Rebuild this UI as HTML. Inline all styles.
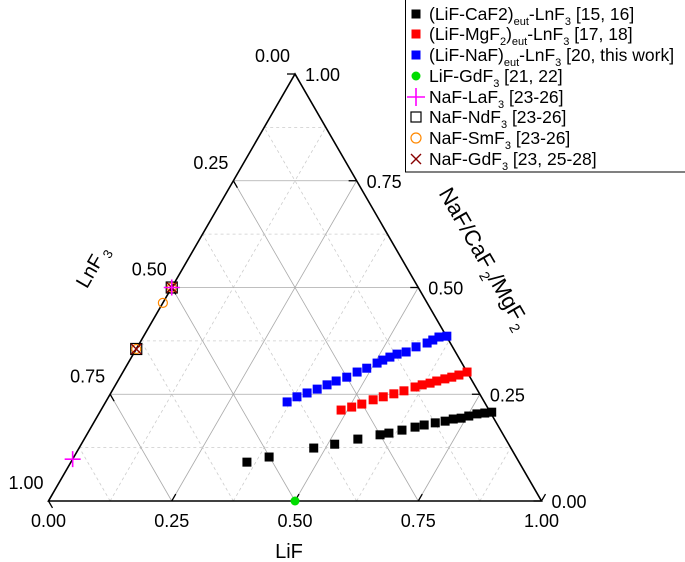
<!DOCTYPE html>
<html><head><meta charset="utf-8"><style>
body{margin:0;background:#fff}
svg{display:block;font-family:"Liberation Sans",Arial,sans-serif}
</style></head><body>
<svg id="c" width="685" height="562" viewBox="0 0 685 562">
<g id="grid"></g>
<g id="axes"></g>
<g id="marks"></g>
<text x="289" y="558" font-size="20" text-anchor="middle">LiF</text>
<text transform="translate(98,270) rotate(-60)" font-size="20" text-anchor="middle">LnF<tspan font-size="13" dx="3" dy="5">3</tspan></text>
<text transform="translate(478,262) rotate(60)" font-size="22" text-anchor="middle">NaF/CaF<tspan font-size="14" dx="2" dy="6">2</tspan><tspan dy="-6">/MgF</tspan><tspan font-size="14" dx="2" dy="6">2</tspan></text>
<g id="legend">
<rect x="405.5" y="-1" width="290" height="173" fill="#fff" stroke="#000" stroke-width="1"/>
</g>
</svg>
<script>
const blackLiF=[0.357,0.396,0.476,0.514,0.555,0.595,0.611,0.634,0.657,0.673,0.693,0.711,0.725,0.740,0.753,0.767,0.782,0.795];
const blackThird=[0.091,0.103,0.124,0.133,0.145,0.155,0.159,0.166,0.173,0.178,0.183,0.187,0.192,0.194,0.199,0.204,0.206,0.208];
const redLiF=[0.487,0.505,0.522,0.540,0.557,0.575,0.592,0.610,0.622,0.636,0.647,0.661,0.673,0.685,0.698];
const redThird=[0.213,0.220,0.227,0.237,0.244,0.251,0.258,0.267,0.272,0.276,0.281,0.286,0.290,0.295,0.302];
const blueLiF=[0.368,0.382,0.398,0.414,0.429,0.443,0.460,0.475,0.490,0.505,0.513,0.524,0.535,0.551,0.565,0.583,0.591,0.600,0.615];
const blueThird=[0.232,0.244,0.253,0.262,0.272,0.281,0.290,0.302,0.311,0.323,0.330,0.337,0.344,0.349,0.361,0.370,0.377,0.384,0.386];
const greenLiF=[0.5];const greenThird=[0];
const laThird=[0.098,0.5];
const ndThird=[0.356,0.5];
const smThird=[0.356,0.464,0.5];
const gdThird=[0.356,0.5];
const tickLabels=["0.00","0.25","0.50","0.75","1.00"];
const tickVals=[0,0.25,0.5,0.75,1];

const NS="http://www.w3.org/2000/svg";
const BLx=48.5,BY=501,W=493,H=427;
function px(a,c){return BLx+a*W+c*W/2;}
function py(a,c){return BY-c*H;}
function mk(tag,at,parent){const e=document.createElementNS(NS,tag);for(const k in at)e.setAttribute(k,at[k]);parent.appendChild(e);return e;}
const grid=document.getElementById('grid'),axes=document.getElementById('axes'),marks=document.getElementById('marks'),legend=document.getElementById('legend');

for(let i=1;i<8;i++){
  const t=i/8, solid=i%2===0;
  const st=solid?{stroke:'#aaa','stroke-width':0.8}:{stroke:'#ccc','stroke-width':0.8,'stroke-dasharray':'3,3'};
  let l=mk('line',Object.assign({x1:px(0,t),y1:py(0,t),x2:px(1-t,t),y2:py(1-t,t)},st),grid);
  
  
  l=mk('line',Object.assign({x1:px(t,0),y1:py(t,0),x2:px(t,1-t),y2:py(t,1-t)},st),grid);
  
  
  l=mk('line',Object.assign({x1:px(1-t,0),y1:py(1-t,0),x2:px(0,1-t),y2:py(0,1-t)},st),grid);
  
  
}
const tri=mk('polygon',{points:`${px(0,0)},${py(0,0)} ${px(1,0)},${py(1,0)} ${px(0,1)},${py(0,1)}`,fill:'none',stroke:'#000','stroke-width':1.6},axes);


const TL=8;
for(let i=0;i<5;i++){
  const v=tickVals[i];
  // ticks
  let tk=mk('line',{x1:px(v,0),y1:py(v,0),x2:px(v,0)+TL*0.5,y2:py(v,0)-TL*0.866,stroke:'#000','stroke-width':1.3},axes);
  
  
  tk=mk('line',{x1:px(0,1-v),y1:py(0,1-v),x2:px(0,1-v)+TL*0.5,y2:py(0,1-v)+TL*0.866,stroke:'#000','stroke-width':1.3},axes);
  
  
  tk=mk('line',{x1:px(1-v,v),y1:py(1-v,v),x2:px(1-v,v)-TL,y2:py(1-v,v),stroke:'#000','stroke-width':1.3},axes);
  
  
  let t=mk('text',{x:px(v,0),y:527,'font-size':18,'text-anchor':'middle'},axes);t.textContent=tickLabels[i];
  
  
  t=mk('text',{x:px(0,1-v)-5,y:py(0,1-v)-12,'font-size':18,'text-anchor':'end'},axes);t.textContent=tickLabels[i];
  
  
  t=mk('text',{x:px(1-v,v)+10,y:py(1-v,v)+7,'font-size':18,'text-anchor':'start'},axes);t.textContent=tickLabels[i];
  
  
}
function sq(x,y,s,fill,stroke){return mk('rect',{x:x-s/2,y:y-s/2,width:s,height:s,fill:fill,stroke:stroke||'none','stroke-width':1.2},marks);}
function series(A,C,color,name){for(let i=0;i<A.length;i++){const r=sq(px(A[i],C[i]),py(A[i],C[i]),9,color);
  
  }}
series(blackLiF,blackThird,'#000','point-licaf2');
series(redLiF,redThird,'#f00','point-limgf2');
series(blueLiF,blueThird,'#00f','point-linaf');
greenLiF.forEach((a,i)=>{const e=mk('circle',{cx:px(a,greenThird[i]),cy:py(a,greenThird[i]),r:4.5,fill:'#0d0'},marks);
  
  });
ndThird.forEach(c=>{const e=sq(px(0,c),py(0,c),11,'none','#000');
  
  });
smThird.forEach(c=>{const e=mk('circle',{cx:px(0,c),cy:py(0,c),r:4.5,fill:'none',stroke:'#f80','stroke-width':1.2},marks);
  
  });
gdThird.forEach(c=>{const x=px(0,c),y=py(0,c);const e=mk('path',{d:`M${x-5},${y-5}L${x+5},${y+5}M${x+5},${y-5}L${x-5},${y+5}`,stroke:'#800','stroke-width':1.4,fill:'none'},marks);
  
  });
laThird.forEach(c=>{const x=px(0,c),y=py(0,c);const e=mk('path',{d:`M${x-8},${y}L${x+8},${y}M${x},${y-8}L${x},${y+8}`,stroke:'#f0f','stroke-width':1.6,fill:'none'},marks);
  
  });

const legY=[14,34,55,76,97,117,138,159];
const legHTML=[
 '(LiF-CaF2)<tspan font-size="11" dy="5">eut</tspan><tspan dy="-5">-LnF</tspan><tspan font-size="11" dy="5">3</tspan><tspan dy="-5"> [15, 16]</tspan>',
 '(LiF-MgF<tspan font-size="11" dy="5">2</tspan><tspan dy="-5">)</tspan><tspan font-size="11" dy="5">eut</tspan><tspan dy="-5">-LnF</tspan><tspan font-size="11" dy="5">3</tspan><tspan dy="-5"> [17, 18]</tspan>',
 '(LiF-NaF)<tspan font-size="11" dy="5">eut</tspan><tspan dy="-5">-LnF</tspan><tspan font-size="11" dy="5">3</tspan><tspan dy="-5"> [20, this work]</tspan>',
 'LiF-GdF<tspan font-size="11" dy="5">3</tspan><tspan dy="-5"> [21, 22]</tspan>',
 'NaF-LaF<tspan font-size="11" dy="5">3</tspan><tspan dy="-5"> [23-26]</tspan>',
 'NaF-NdF<tspan font-size="11" dy="5">3</tspan><tspan dy="-5"> [23-26]</tspan>',
 'NaF-SmF<tspan font-size="11" dy="5">3</tspan><tspan dy="-5"> [23-26]</tspan>',
 'NaF-GdF<tspan font-size="11" dy="5">3</tspan><tspan dy="-5"> [23, 25-28]</tspan>'];
const mx=416;
legY.forEach((y,i)=>{
  const t=mk('text',{x:429,y:y+6,'font-size':17.5},legend);t.innerHTML=legHTML[i];
  
  
  let m;
  if(i<3)m=mk('rect',{x:mx-4.5,y:y-4.5,width:9,height:9,fill:['#000','#f00','#00f'][i]},legend);
  else if(i===3)m=mk('circle',{cx:mx,cy:y,r:4.5,fill:'#0d0'},legend);
  else if(i===4)m=mk('path',{d:`M${mx-9},${y}L${mx+9},${y}M${mx},${y-9}L${mx},${y+9}`,stroke:'#f0f','stroke-width':1.6},legend);
  else if(i===5)m=mk('rect',{x:mx-5,y:y-5,width:10,height:10,fill:'none',stroke:'#000','stroke-width':1.2},legend);
  else if(i===6)m=mk('circle',{cx:mx,cy:y,r:5,fill:'none',stroke:'#f80','stroke-width':1.2},legend);
  else m=mk('path',{d:`M${mx-5},${y-5}L${mx+5},${y+5}M${mx+5},${y-5}L${mx-5},${y+5}`,stroke:'#800','stroke-width':1.4},legend);
  
  
});
</script>
</body></html>
